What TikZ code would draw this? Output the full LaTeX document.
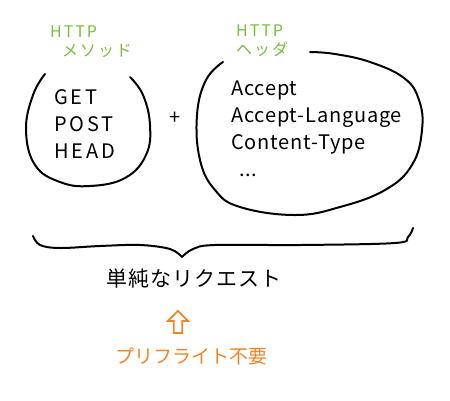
\documentclass[tikz,border=0pt]{standalone}
\usepackage{fontspec}
\setmainfont{Noto Sans CJK JP}
\usepackage{tikz}
\usetikzlibrary{shapes, arrows.meta, positioning}
\usepackage{xcolor}
\definecolor{labelgreen}{RGB}{122,190,62}
\definecolor{noteorange}{RGB}{242,132,40}

\tikzset{
    pen/.style={line width=2pt, line cap=round, line join=round},
    body/.style={font=\fontsize{20}{27}\selectfont\addfontfeatures{LetterSpace=#1}, align=left, inner sep=0pt},
    tag/.style={font=\fontsize{16}{19}\selectfont\addfontfeatures{LetterSpace=12}, align=left, text=labelgreen, inner sep=0pt}
}

\begin{document}
\begin{tikzpicture}[x=1pt, y=-1pt]
    \useasboundingbox (0,0) rectangle (450,400);

    % 左側:メソッド
    \node[body=14, anchor=west] (method) at (54,124) {GET\\POST\\HEAD};
    \node[tag, anchor=north west] (methodtag) at (50,26) {HTTP\\\hspace*{12pt}メソッド};
    \draw[pen] plot[smooth, tension=0.7] coordinates {(45,74) (33,95) (26,130) (35,165) (60,182) (90,186) (125,178) (146,155) (150,125) (143,95) (130,77)};

    % 中間:プラス
    \node[font=\fontsize{20}{20}\selectfont, inner sep=0pt] (plus) at (175,118) {+};

    % 右側:ヘッダ
    \node[body=4, anchor=west] (header) at (231,129) {Accept\\Accept-Language\\Content-Type\\\hspace*{8pt}...};
    \node[tag, anchor=north west] (headertag) at (236,25) {HTTP\\ヘッダ};
    \draw[pen] plot[smooth, tension=0.7] coordinates {(223,62) (206,80) (197,115) (200,160) (215,190) (240,207) (295,215) (340,207) (385,190) (412,165) (422,130) (419,100) (404,78) (370,62) (335,54) (310,52)};

    % 下の波括弧
    \draw[pen] plot[smooth, tension=0.6] coordinates {(33,236) (40,245) (60,248) (100,246) (140,245) (170,249) (182,257)};
    \draw[pen] plot[smooth, tension=0.6] coordinates {(182,257) (193,249) (215,245) (300,245) (395,243) (408,237) (413,228)};
    \coordinate (tip) at (182,257);

    % 単純なリクエスト
    \node[font=\fontsize{21}{21}\selectfont\addfontfeatures{LetterSpace=5}, inner sep=0pt, below=12pt of tip, xshift=12pt] (simple) {単純なリクエスト};

    % 矢印とプリフライト不要
    \node[single arrow, draw=noteorange, line width=1.8pt, shape border rotate=90, minimum width=20pt, minimum height=22pt, single arrow head extend=4pt, inner sep=2pt] (up) at (178,324) {};
    \node[font=\fontsize{19}{19}\selectfont, inner sep=0pt, text=noteorange, below=14pt of up, xshift=13pt] (preflight) {プリフライト不要};
\end{tikzpicture}
\end{document}
